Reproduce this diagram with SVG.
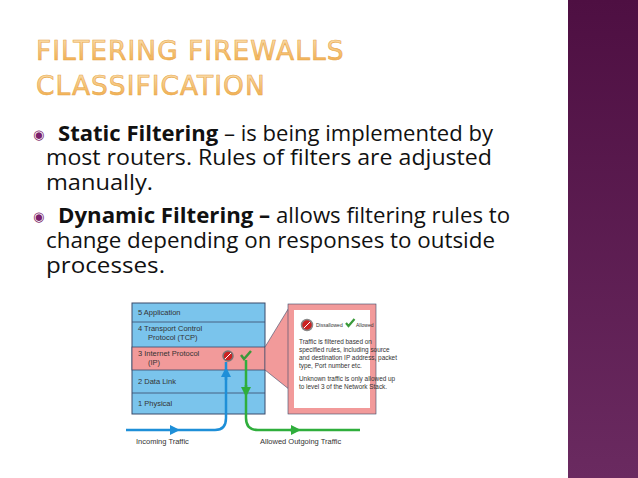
<svg xmlns="http://www.w3.org/2000/svg" width="638" height="478" viewBox="0 0 638 478">
<defs>
<linearGradient id="tg" x1="0" y1="0" x2="0" y2="1"><stop offset="0" stop-color="#fbe3b8"/><stop offset="1" stop-color="#f0a640"/></linearGradient>
<linearGradient id="pg" x1="0" y1="0" x2="0" y2="1"><stop offset="0" stop-color="#4e0f42"/><stop offset="1" stop-color="#6a2a60"/></linearGradient>
<marker id="ab" viewBox="0 0 10 10" refX="5" refY="5" markerWidth="4" markerHeight="4" orient="auto"><path d="M0,0L10,5L0,10z" fill="#1e8fd8"/></marker>
<marker id="ag" viewBox="0 0 10 10" refX="5" refY="5" markerWidth="4" markerHeight="4" orient="auto"><path d="M0,0L10,5L0,10z" fill="#2fae3c"/></marker>
<style>
.t{font-family:"Open Sans","DejaVu Sans",sans-serif;font-size:21px;fill:#111}
.s{font-family:"Liberation Sans",Arial,sans-serif;font-size:7.5px;fill:#333}
.c{font-family:"Liberation Sans",Arial,sans-serif;font-size:6.4px;fill:#333}
.b{font-size:13px;font-family:'DejaVu Sans',sans-serif;fill:#7a1e6a}
.layer{stroke:#3a4a6a;stroke-width:0.8}
</style>
</defs>
<rect width="638" height="478" fill="#fff"/>
<rect x="568" y="0" width="70" height="478" fill="url(#pg)"/>
<g id="title" font-family="Verdana,'DejaVu Sans',sans-serif" font-size="26.5" fill="url(#tg)" stroke="#e8a84a" stroke-width="0.6" letter-spacing="1">
<text x="36" y="60">FILTERING FIREWALLS</text>
<text x="36" y="95">CLASSIFICATION</text>
</g>
<g id="bullets">
<text x="33" y="139" class="b">◉</text>
<text x="58" y="141" class="t" textLength="435" lengthAdjust="spacingAndGlyphs"><tspan font-weight="bold">Static Filtering</tspan> – is being implemented by</text>
<text x="46" y="165" class="t" textLength="446" lengthAdjust="spacingAndGlyphs">most routers. Rules of filters are adjusted</text>
<text x="46" y="190" class="t" textLength="107" lengthAdjust="spacingAndGlyphs">manually.</text>
<text x="33" y="221" class="b">◉</text>
<text x="58" y="223" class="t" textLength="452" lengthAdjust="spacingAndGlyphs"><tspan font-weight="bold">Dynamic Filtering –</tspan> allows filtering rules to</text>
<text x="46" y="248" class="t" textLength="449" lengthAdjust="spacingAndGlyphs">change depending on responses to outside</text>
<text x="46" y="273" class="t" textLength="119" lengthAdjust="spacingAndGlyphs">processes.</text>
</g>
<g id="stack">
<rect x="132" y="303" width="133" height="111" fill="#7ac4ec" stroke="#3a4a6a"/>
<rect x="132" y="347" width="133" height="23" fill="#f29a9a" class="layer"/>
<line x1="132" y1="322" x2="265" y2="322" class="layer"/>
<line x1="132" y1="393" x2="265" y2="393" class="layer"/>
<text x="138" y="315" class="s">5  Application</text>
<text x="138" y="331" class="s">4  Transport Control</text>
<text x="148" y="340" class="s">Protocol (TCP)</text>
<text x="138" y="356" class="s">3  Internet Protocol</text>
<text x="148" y="365" class="s">(IP)</text>
<text x="138" y="384" class="s">2  Data Link</text>
<text x="138" y="406" class="s">1  Physical</text>
<circle cx="228" cy="356" r="5" fill="#c22" stroke="#777" stroke-width="1.5"/>
<line x1="225" y1="359" x2="231" y2="353" stroke="#fff" stroke-width="1"/>
<path d="M241,355 l3,4 l7,-8" fill="none" stroke="#3a9a3a" stroke-width="2.5"/>
</g>
<g id="callout">
<path d="M265,347 L290,306 L290,390 L265,370 Z" fill="#f29a9a" stroke="#3a4a6a" stroke-width="0.6"/>
<rect x="288" y="304" width="88" height="110" fill="#f29a9a" stroke="#3a4a6a" stroke-width="0.6"/>
<rect x="294" y="310" width="76" height="98" fill="#fff"/>
<circle cx="307" cy="325" r="5.5" fill="#c22" stroke="#888" stroke-width="1.5"/>
<line x1="304" y1="328" x2="310" y2="322" stroke="#fff" stroke-width="1"/>
<text x="316" y="327" class="c" style="font-size:5px">Dissallowed</text>
<path d="M346,323 l2.5,3 l6,-7" fill="none" stroke="#3a9a3a" stroke-width="2.2"/>
<text x="356" y="327" class="c" style="font-size:5px">Allowed</text>
<text x="299" y="344" class="c">Traffic is filtered based on</text>
<text x="299" y="352" class="c">specified rules, including source</text>
<text x="299" y="360" class="c">and destination IP address, packet</text>
<text x="299" y="368" class="c">type, Port number etc.</text>
<text x="299" y="381" class="c">Unknown traffic is only allowed up</text>
<text x="299" y="389" class="c">to level 3 of the Network Stack.</text>
</g>
<g id="connectors" fill="none" stroke-width="2.5">
<path d="M126,430 L215,430 Q226,430 226,418 L226,362" stroke="#1e8fd8"/>
<path d="M170,430 L175,430" stroke="#1e8fd8" marker-end="url(#ab)"/>
<path d="M226,380 L226,372" stroke="#1e8fd8" marker-end="url(#ab)"/>
<path d="M246,360 L246,418 Q246,430 258,430 L360,430" stroke="#2fae3c"/>
<path d="M246,385 L246,392" stroke="#2fae3c" marker-end="url(#ag)"/>
<path d="M290,430 L296,430" stroke="#2fae3c" marker-end="url(#ag)"/>
</g>
<text x="136" y="444" class="s">Incoming Traffic</text>
<text x="260" y="444" class="s">Allowed Outgoing Traffic</text>
</svg>
